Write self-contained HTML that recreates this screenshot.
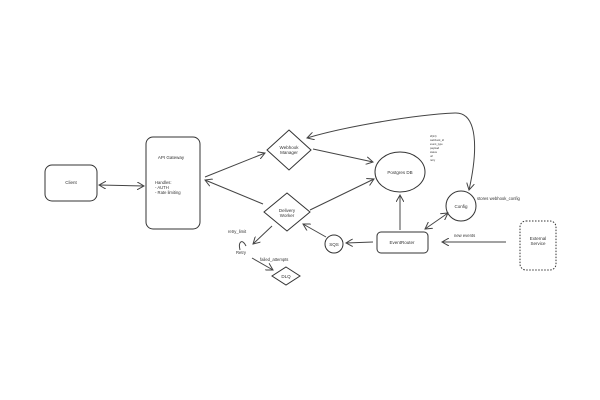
<!DOCTYPE html>
<html><head><style>
body{margin:0;background:#fff;}
svg{display:block;}
text{font-family:"Liberation Sans",sans-serif;fill:#333;}
</style></head><body>
<svg width="600" height="400" viewBox="0 0 600 400" xmlns="http://www.w3.org/2000/svg">
<defs>
<marker id="a" markerWidth="8" markerHeight="8" refX="7" refY="4" orient="auto" markerUnits="userSpaceOnUse">
<path d="M0,0 L7,4 L0,8" fill="none" stroke="#444" stroke-width="1"/></marker>
<marker id="s" markerWidth="8" markerHeight="8" refX="1" refY="4" orient="auto" markerUnits="userSpaceOnUse">
<path d="M8,0 L1,4 L8,8" fill="none" stroke="#444" stroke-width="1"/></marker>
</defs>
<g fill="none" stroke="#333" stroke-width="1">
<rect x="45" y="165" width="52" height="36" rx="7"/>
<rect x="146" y="137" width="54" height="92" rx="7"/>
<polygon points="289,130 311,150 289,170 267,150"/>
<polygon points="287,193 310,212 287,231 264,212"/>
<ellipse cx="400" cy="172" rx="25" ry="20"/>
<circle cx="461" cy="206" r="15"/>
<rect x="377" y="232" width="51" height="21" rx="4"/>
<circle cx="334" cy="244" r="9"/>
<rect x="520" y="221" width="36" height="49" rx="6" stroke-dasharray="1.5,1.5"/>
<polygon points="286,267 300,276 286,285 272,276"/>
</g>
<g fill="none" stroke="#444" stroke-width="1">
<line x1="99" y1="185" x2="144" y2="186" marker-start="url(#s)" marker-end="url(#a)"/>
<line x1="205" y1="177" x2="265" y2="153" marker-end="url(#a)"/>
<line x1="263" y1="204" x2="205" y2="180" marker-end="url(#a)"/>
<line x1="313" y1="149" x2="373" y2="162" marker-end="url(#a)"/>
<line x1="310" y1="210" x2="374" y2="179" marker-end="url(#a)"/>
<line x1="400" y1="230" x2="400" y2="195" marker-end="url(#a)"/>
<line x1="425" y1="229" x2="448" y2="213" marker-start="url(#s)" marker-end="url(#a)"/>
<line x1="373" y1="242" x2="346" y2="243" marker-end="url(#a)"/>
<line x1="326" y1="237" x2="303" y2="224" marker-end="url(#a)"/>
<line x1="506" y1="242" x2="442" y2="242" marker-end="url(#a)"/>
<path d="M469,190 C478,150 478,112 455,113 C410,115 340,128 307,138" marker-start="url(#s)" marker-end="url(#a)"/>
<line x1="272" y1="226" x2="253" y2="244" marker-end="url(#a)"/>
<path d="M240,250 C238,242 242,238 246,246" />
<line x1="252" y1="258" x2="273" y2="270" marker-end="url(#a)"/>
</g>
<g font-size="4.5" text-anchor="middle">
<text x="71" y="184">Client</text>
<text x="171" y="159">API Gateway</text>
<text x="289" y="149">Webhook</text><text x="289" y="154">Manager</text>
<text x="287" y="212">Delivery</text><text x="287" y="217">Worker</text>
<text x="400" y="174">Postgres DB</text>
<text x="461" y="208">Config</text>
<text x="402" y="244">EventRouter</text>
<text x="334" y="246">SQS</text>
<text x="538" y="240">External</text><text x="538" y="245">Service</text>
<text x="286" y="278">DLQ</text>
</g>
<g font-size="4.2">
<text x="155" y="184">Handles:</text>
<text x="155" y="189">- AUTH</text>
<text x="155" y="194">- Rate limiting</text>
<text x="228" y="233">retry_limit</text>
<text x="236" y="254">Retry</text>
<text x="260" y="261">failed_attempts</text>
<text x="477" y="200">stores webhook_config</text>
<text x="454" y="237">new events</text>
</g>
<g font-size="2.6">
<text x="430" y="137">id(int)</text>
<text x="430" y="141">webhook_id</text>
<text x="430" y="145">event_type</text>
<text x="430" y="149">payload</text>
<text x="430" y="153">status</text>
<text x="430" y="157">url</text>
<text x="430" y="161">retry</text>
</g>
</svg>
</body></html>
